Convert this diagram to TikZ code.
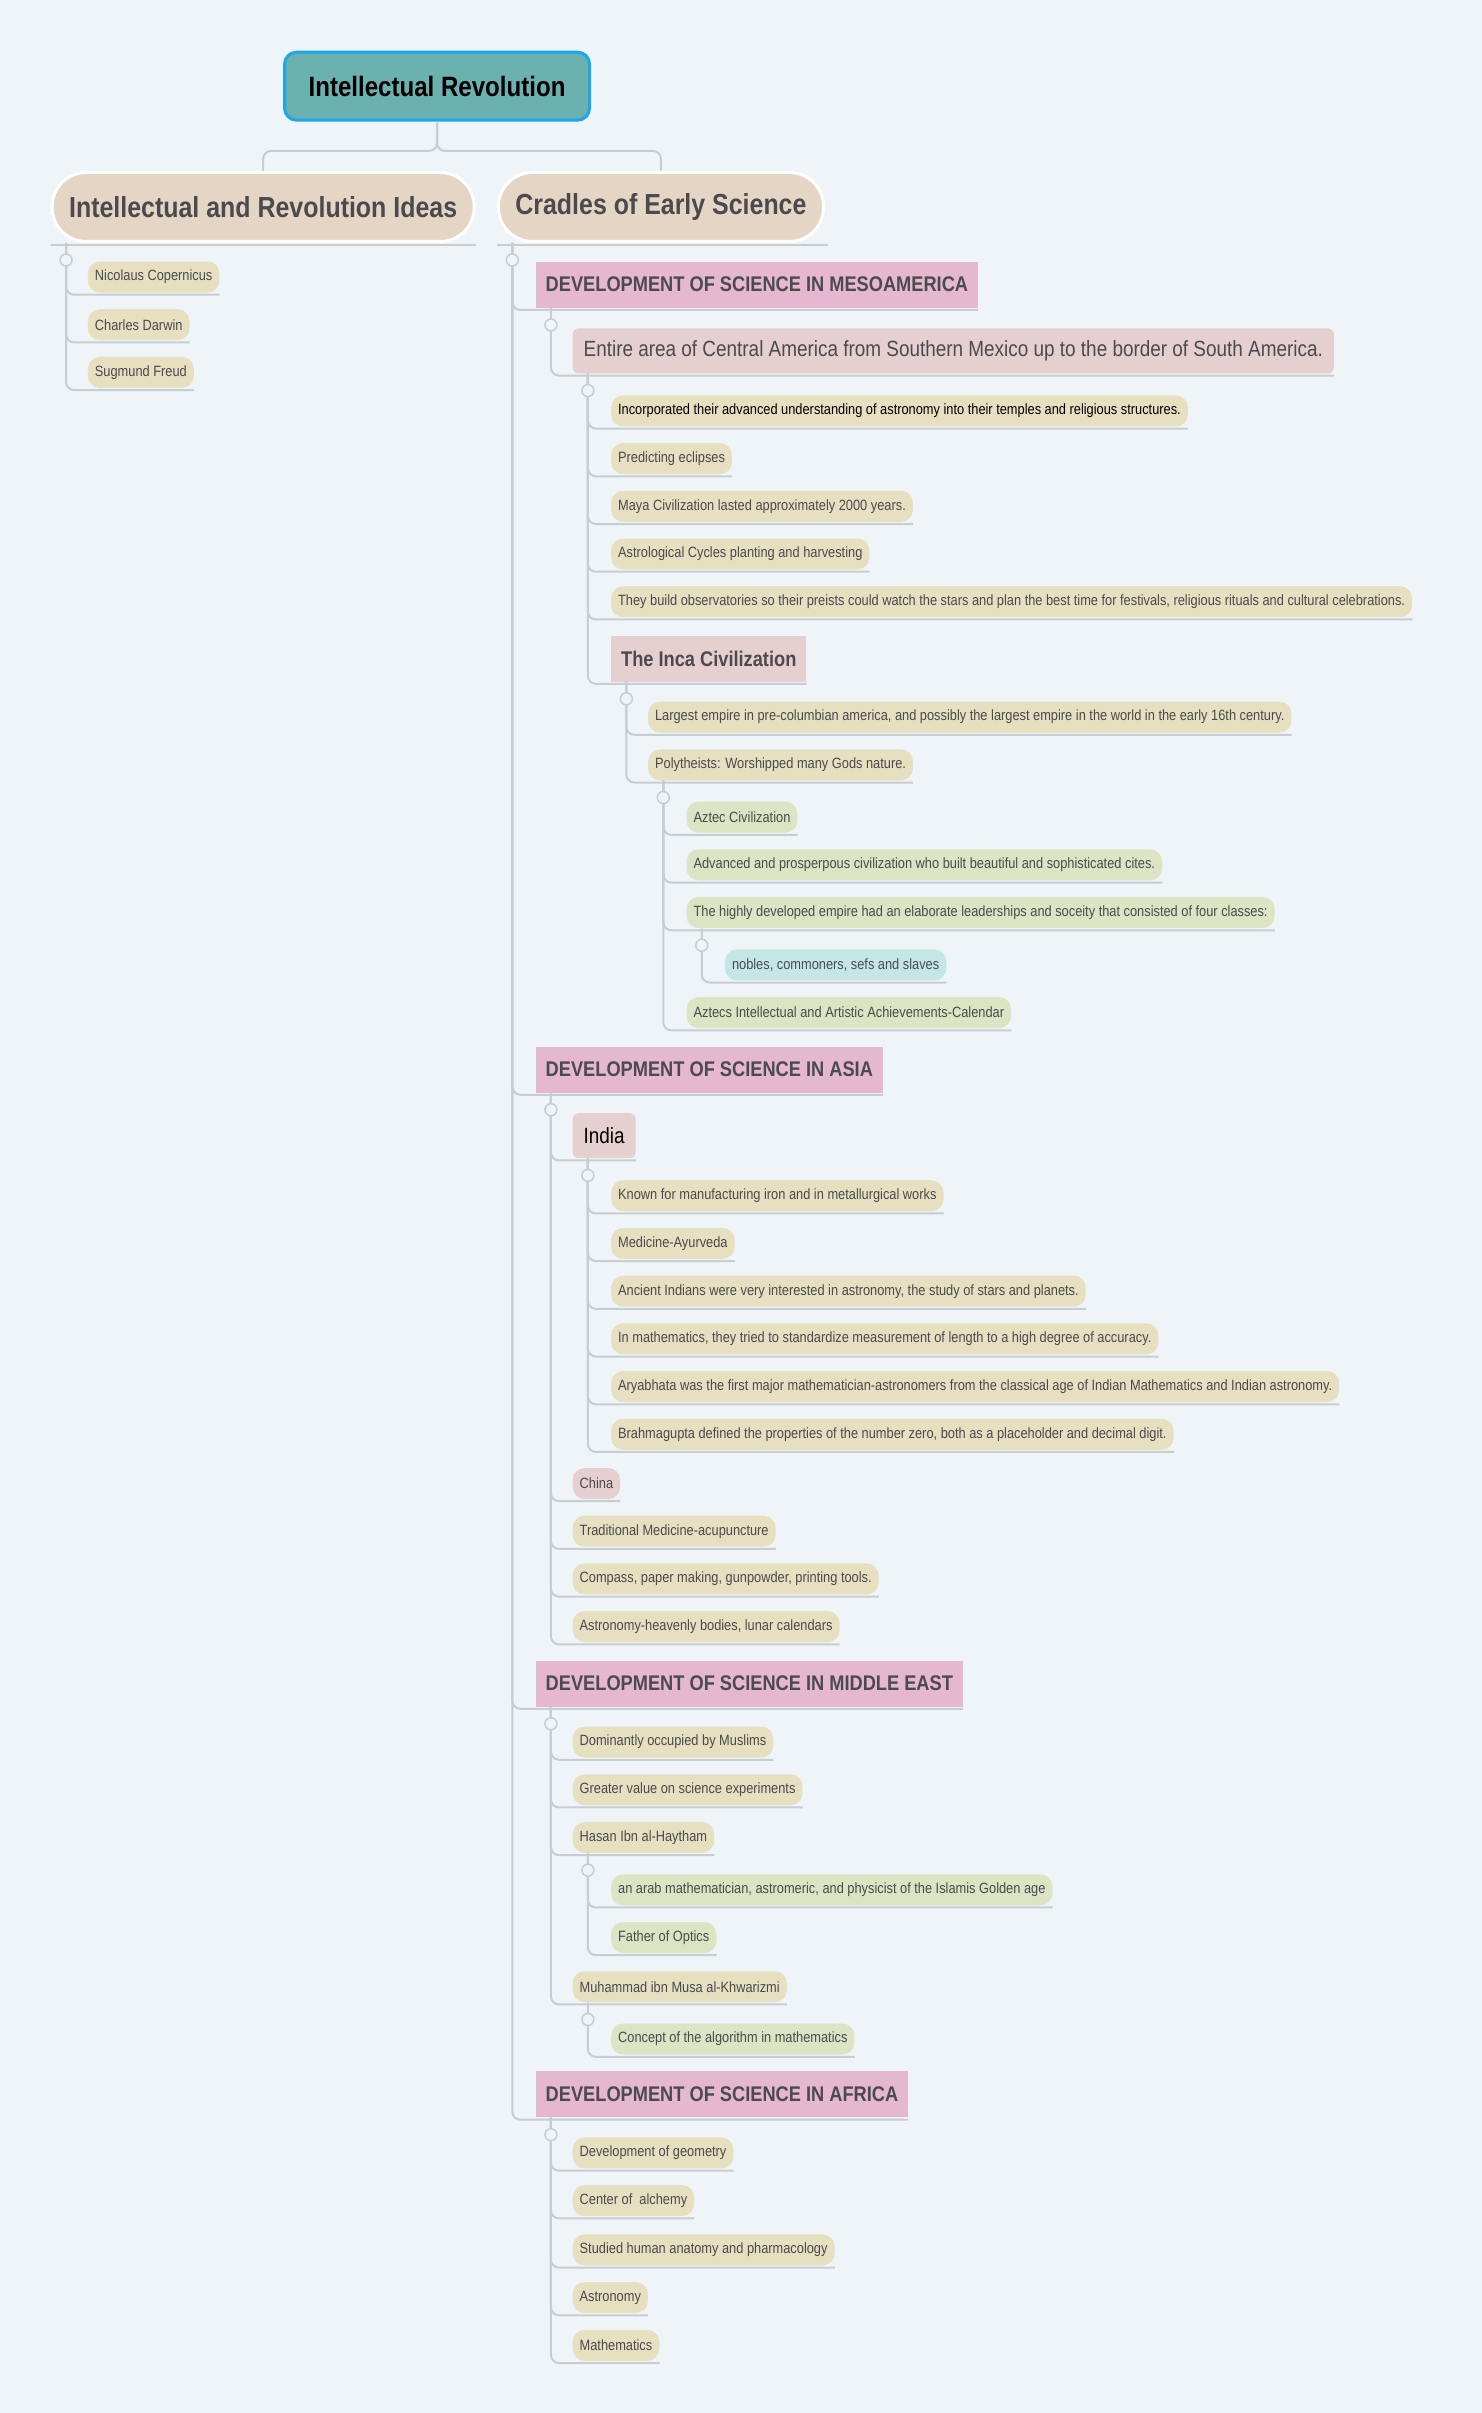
\documentclass[tikz,border=0pt]{standalone}
\usepackage{fontspec}
\setmainfont{Liberation Sans}[FakeStretch=0.86]
\begin{document}
\definecolor{bg}{HTML}{EFF4F8}
\definecolor{khaki}{HTML}{E6DFC0}
\definecolor{green}{HTML}{DCE4C3}
\definecolor{sect}{HTML}{E6B8CF}
\definecolor{sub}{HTML}{E6CFCF}
\definecolor{teal}{HTML}{6BB1B0}
\definecolor{lin}{HTML}{C8CDD2}
\definecolor{txt}{HTML}{4A4A4F}
\definecolor{cyan}{HTML}{C4E6E5}
\definecolor{rootb}{HTML}{1AA7EC}
\definecolor{L1c}{HTML}{E5D5C4}
\begin{tikzpicture}[x=1.539pt,y=-1.539pt,
  every node/.style={text=txt,inner xsep=7pt,inner ysep=0pt},
  leaf/.style={fill=khaki,rounded corners=12pt,minimum height=31pt,font=\fontsize{14.9}{17}\selectfont,anchor=west},
  gleaf/.style={leaf,fill=green},
  sect/.style={fill=sect,minimum height=46pt,font=\fontsize{21.2}{25}\selectfont\bfseries,anchor=west,inner xsep=10pt},
  sub/.style={fill=sub,rounded corners=6pt,minimum height=45pt,font=\fontsize{22}{26}\selectfont,anchor=west,inner xsep=11pt},
  l1/.style={fill=L1c,draw=white,line width=3pt,rounded corners=34pt,minimum height=69pt,font=\fontsize{29}{34}\selectfont\bfseries,inner xsep=17pt},
  conn/.style={draw=lin,line width=2pt,rounded corners=8pt},
  dot/.style={circle,draw=lin,fill=bg,line width=1.5pt,minimum size=12pt,inner sep=0pt}]
\fill[bg] (0,0) rectangle (963,1568);
\useasboundingbox (0,0) rectangle (963,1568);
\newcommand\kid[2]{\draw[conn] ([xshift=15.4pt]#1.south west) |- ([yshift=-2pt]#2.south west) -- ([yshift=-2pt]#2.south east);}
\newcommand\pdot[1]{\node[dot] at ([xshift=15.4pt,yshift=-17pt]#1.south west) {};}
% root
\node[fill=teal,draw=rootb,line width=3pt,rounded corners=12pt,minimum width=305pt,minimum height=68pt,font=\fontsize{28}{32}\selectfont\bfseries,text=black] (root) at (284,56) {Intellectual Revolution};
\node[l1] (A) at (171,134.5) {Intellectual and Revolution Ideas};
\node[l1] (B) at (429.5,134.5) {Cradles of Early Science};
\draw[conn] (root.south) -- ++(0,19) -| (A.north);
\draw[conn] (root.south) -- ++(0,19) -| (B.north);
\draw[conn] ([yshift=-2pt]A.south west) -- ([yshift=-2pt]A.south east);
\draw[conn] ([yshift=-2pt]B.south west) -- ([yshift=-2pt,xshift=3pt]B.south east);
% left
\node[leaf] (a1) at (57,180) {Nicolaus Copernicus};
\node[leaf] (a2) at (57,211) {Charles Darwin};
\node[leaf] (a3) at (57,242) {Sugmund Freud};
\foreach \c in {a1,a2,a3}{\kid{A}{\c}}
\pdot{A}
% sections
\node[sect] (S1) at (348,185) {DEVELOPMENT OF SCIENCE IN MESOAMERICA};
\node[sect] (S2) at (348,695) {DEVELOPMENT OF SCIENCE IN ASIA};
\node[sect] (S3) at (348,1094) {DEVELOPMENT OF SCIENCE IN MIDDLE EAST};
\node[sect] (S4) at (348,1361) {DEVELOPMENT OF SCIENCE IN AFRICA};
\foreach \c in {S1,S2,S3,S4}{\kid{B}{\c}}
\pdot{B}
% Mesoamerica
\node[sub] (m) at (372,228) {Entire area of Central America from Southern Mexico up to the border of South America.};
\kid{S1}{m}\pdot{S1}
\node[leaf,text=black] (m1) at (397,267) {Incorporated their advanced understanding of astronomy into their temples and religious structures.};
\node[leaf] (m2) at (397,298) {Predicting eclipses};
\node[leaf] (m3) at (397,329) {Maya Civilization lasted approximately 2000 years.};
\node[leaf] (m4) at (397,360) {Astrological Cycles planting and harvesting};
\node[leaf] (m5) at (397,391) {They build observatories so their preists could watch the stars and plan the best time for festivals, religious rituals and cultural celebrations.};
\node[sub,rounded corners=0pt,minimum height=46pt,inner xsep=10pt,font=\fontsize{21.2}{25}\selectfont\bfseries] (inca) at (397,428) {The Inca Civilization};
\foreach \c in {m1,m2,m3,m4,m5,inca}{\kid{m}{\c}}
\pdot{m}
\node[leaf] (i1) at (421,466) {Largest empire in pre-columbian america, and possibly the largest empire in the world in the early 16th century.};
\node[leaf] (i2) at (421,497) {Polytheists: Worshipped many Gods nature.};
\kid{inca}{i1}\kid{inca}{i2}\pdot{inca}
\node[gleaf] (z1) at (446,531) {Aztec Civilization};
\node[gleaf] (z2) at (446,562) {Advanced and prosperpous civilization who built beautiful and sophisticated cites.};
\node[gleaf] (z3) at (446,593) {The highly developed empire had an elaborate leaderships and soceity that consisted of four classes:};
\node[gleaf] (z4) at (446,658) {Aztecs Intellectual and Artistic Achievements-Calendar};
\foreach \c in {z1,z2,z3,z4}{\kid{i2}{\c}}
\pdot{i2}
\node[leaf,fill=cyan] (n1) at (471,627) {nobles, commoners, sefs and slaves};
\kid{z3}{n1}\pdot{z3}
% Asia
\node[sub,text=black] (india) at (372,738) {India};
\node[leaf,fill=sub] (china) at (372,964) {China};
\node[leaf] (c1) at (372,995) {Traditional Medicine-acupuncture};
\node[leaf] (c2) at (372,1026) {Compass, paper making, gunpowder, printing tools.};
\node[leaf] (c3) at (372,1057) {Astronomy-heavenly bodies, lunar calendars};
\foreach \c in {india,china,c1,c2,c3}{\kid{S2}{\c}}
\pdot{S2}
\node[leaf] (d1) at (397,777) {Known for manufacturing iron and in metallurgical works};
\node[leaf] (d2) at (397,808) {Medicine-Ayurveda};
\node[leaf] (d3) at (397,839) {Ancient Indians were very interested in astronomy, the study of stars and planets.};
\node[leaf] (d4) at (397,870) {In mathematics, they tried to standardize measurement of length to a high degree of accuracy.};
\node[leaf] (d5) at (397,901) {Aryabhata was the first major mathematician-astronomers from the classical age of Indian Mathematics and Indian astronomy.};
\node[leaf] (d6) at (397,932) {Brahmagupta defined the properties of the number zero, both as a placeholder and decimal digit.};
\foreach \c in {d1,d2,d3,d4,d5,d6}{\kid{india}{\c}}
\pdot{india}
% Middle East
\node[leaf] (e1) at (372,1132) {Dominantly occupied by Muslims};
\node[leaf] (e2) at (372,1163) {Greater value on science experiments};
\node[leaf] (e3) at (372,1194) {Hasan Ibn al-Haytham};
\node[leaf] (e4) at (372,1291) {Muhammad ibn Musa al-Khwarizmi};
\foreach \c in {e1,e2,e3,e4}{\kid{S3}{\c}}
\pdot{S3}
\node[gleaf] (h1) at (397,1228) {an arab mathematician, astromeric, and physicist of the Islamis Golden age};
\node[gleaf] (h2) at (397,1259) {Father of Optics};
\kid{e3}{h1}\kid{e3}{h2}\pdot{e3}
\node[gleaf] (k1) at (397,1325) {Concept of the algorithm in mathematics};
\kid{e4}{k1}\pdot{e4}
% Africa
\node[leaf] (f1) at (372,1399) {Development of geometry};
\node[leaf] (f2) at (372,1430) {Center of\ \ alchemy};
\node[leaf] (f3) at (372,1462) {Studied human anatomy and pharmacology};
\node[leaf] (f4) at (372,1493) {Astronomy};
\node[leaf] (f5) at (372,1524) {Mathematics};
\foreach \c in {f1,f2,f3,f4,f5}{\kid{S4}{\c}}
\pdot{S4}
\end{tikzpicture}
\end{document}
